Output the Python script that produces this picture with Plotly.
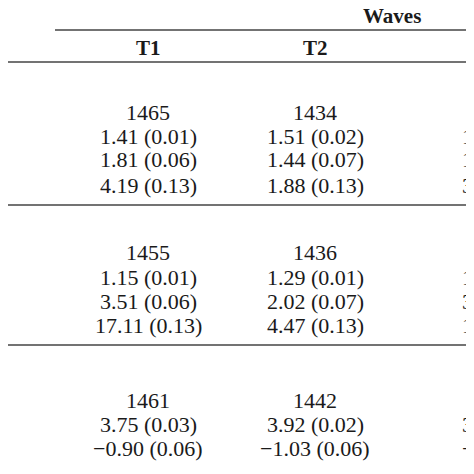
import plotly.graph_objects as go

waves = ["T1", "T2", "T3"]
col_x = [148, 315, 460]
sec1 = [
    ["1465", "1.41 (0.01)", "1.81 (0.06)", "4.19 (0.13)"],
    ["1434", "1.51 (0.02)", "1.44 (0.07)", "1.88 (0.13)"],
    ["1421", "1.56 (0.02)", "1.36 (0.07)", "3.12 (0.13)"],
]
sec2 = [
    ["1455", "1.15 (0.01)", "3.51 (0.06)", "17.11 (0.13)"],
    ["1436", "1.29 (0.01)", "2.02 (0.07)", "4.47 (0.13)"],
    ["1425", "1.24 (0.01)", "3.18 (0.07)", "13.05 (0.13)"],
]
sec3 = [
    ["1461", "3.75 (0.03)", "\u22120.90 (0.06)"],
    ["1442", "3.92 (0.02)", "\u22121.03 (0.06)"],
    ["1430", "3.86 (0.02)", "\u22120.97 (0.06)"],
]
sec_y = [[112, 136, 160, 185], [252, 277, 301, 325], [400, 424, 448]]
rule_y = [62, 205, 345]

OFF = 8          # page body margin
W = 474 - OFF
font = dict(family="Liberation Serif, DejaVu Serif, serif", size=22, color="#1a1a1a")
fig = go.Figure()

def px(x):
    return (x - OFF) / W

def py(y):
    return 1 - (y - OFF) / W

def txt(x, y, s, f=font, anchor="center"):
    fig.add_annotation(x=px(x), y=py(y), xref="paper", yref="paper", text=s,
                       showarrow=False, font=f, xanchor=anchor, yanchor="middle")

for i, (data, ys) in enumerate(zip([sec1, sec2, sec3], sec_y)):
    for j, (cx, col) in enumerate(zip(col_x, data)):
        for k, (y, s) in enumerate(zip(ys, col)):
            if j == 2:
                if k == 0:
                    continue  # count of third wave lies beyond the crop
                txt(cx, y, s, anchor="left")
            else:
                txt(cx, y, s)
for cx, w in zip(col_x[:2], waves[:2]):
    txt(cx, 48, "<b>" + w + "</b>", dict(font, size=21))
txt(392, 16, "<b>Waves</b>", dict(font, size=21))

fig.add_shape(type="line", xref="paper", yref="paper", x0=px(55), x1=1.1, y0=py(30), y1=py(30),
              line=dict(color="#444", width=1.5))
for y in rule_y:
    fig.add_shape(type="line", xref="paper", yref="paper", x0=-0.1, x1=1.1, y0=py(y), y1=py(y),
                  line=dict(color="#444", width=1.5))
fig.update_xaxes(visible=False)
fig.update_yaxes(visible=False)
fig.update_layout(width=W, height=W, margin=dict(l=0, r=0, t=0, b=0),
                  showlegend=False, plot_bgcolor="white", paper_bgcolor="white")
fig.write_html("out.html")
